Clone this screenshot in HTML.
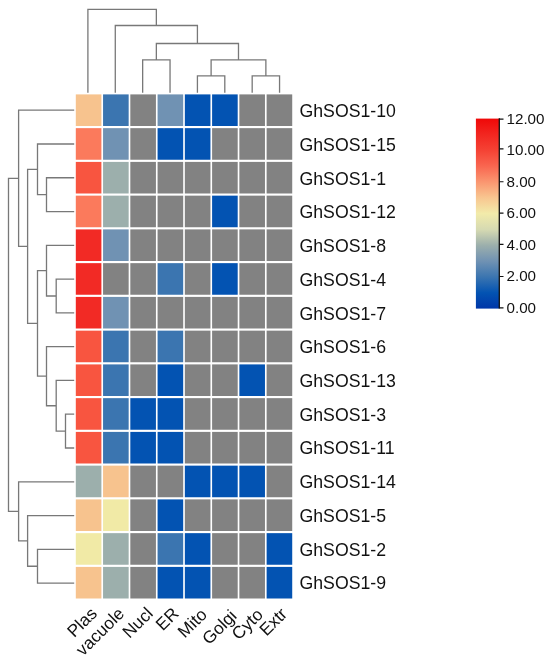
<!DOCTYPE html><html><head><meta charset="utf-8"><title>Heatmap</title><style>html,body{margin:0;padding:0;background:#fff}svg{display:block}text{font-family:"Liberation Sans",Arial,sans-serif;fill:#111}</style></head><body>
<svg width="550" height="666" viewBox="0 0 550 666">
<rect width="550" height="666" fill="#fff"/>
<defs><linearGradient id="cb" x1="0" y1="0" x2="0" y2="1"><stop offset="0.0000" stop-color="#EF0808"/><stop offset="0.0833" stop-color="#F22620"/><stop offset="0.1667" stop-color="#F54234"/><stop offset="0.2500" stop-color="#F96650"/><stop offset="0.3333" stop-color="#FA9670"/><stop offset="0.4167" stop-color="#F8C690"/><stop offset="0.5000" stop-color="#F2EBAA"/><stop offset="0.5833" stop-color="#D6DAB2"/><stop offset="0.6667" stop-color="#9CAFAC"/><stop offset="0.7500" stop-color="#7092B3"/><stop offset="0.8333" stop-color="#3B75B0"/><stop offset="0.9167" stop-color="#0353B2"/><stop offset="1.0000" stop-color="#0036A8"/></linearGradient></defs>
<g>
<rect x="75.80" y="94.40" width="25.6" height="31.6" fill="#F7C38E"/>
<rect x="103.06" y="94.40" width="25.6" height="31.6" fill="#3B75B0"/>
<rect x="130.32" y="94.40" width="25.6" height="31.6" fill="#828282"/>
<rect x="157.58" y="94.40" width="25.6" height="31.6" fill="#7092B3"/>
<rect x="184.84" y="94.40" width="25.6" height="31.6" fill="#0353B2"/>
<rect x="212.10" y="94.40" width="25.6" height="31.6" fill="#0353B2"/>
<rect x="239.36" y="94.40" width="25.6" height="31.6" fill="#828282"/>
<rect x="266.62" y="94.40" width="25.6" height="31.6" fill="#828282"/>
<rect x="75.80" y="128.15" width="25.6" height="31.6" fill="#FB7A5C"/>
<rect x="103.06" y="128.15" width="25.6" height="31.6" fill="#7092B3"/>
<rect x="130.32" y="128.15" width="25.6" height="31.6" fill="#828282"/>
<rect x="157.58" y="128.15" width="25.6" height="31.6" fill="#0353B2"/>
<rect x="184.84" y="128.15" width="25.6" height="31.6" fill="#0353B2"/>
<rect x="212.10" y="128.15" width="25.6" height="31.6" fill="#828282"/>
<rect x="239.36" y="128.15" width="25.6" height="31.6" fill="#828282"/>
<rect x="266.62" y="128.15" width="25.6" height="31.6" fill="#828282"/>
<rect x="75.80" y="161.90" width="25.6" height="31.6" fill="#F85540"/>
<rect x="103.06" y="161.90" width="25.6" height="31.6" fill="#9CAFAC"/>
<rect x="130.32" y="161.90" width="25.6" height="31.6" fill="#828282"/>
<rect x="157.58" y="161.90" width="25.6" height="31.6" fill="#828282"/>
<rect x="184.84" y="161.90" width="25.6" height="31.6" fill="#828282"/>
<rect x="212.10" y="161.90" width="25.6" height="31.6" fill="#828282"/>
<rect x="239.36" y="161.90" width="25.6" height="31.6" fill="#828282"/>
<rect x="266.62" y="161.90" width="25.6" height="31.6" fill="#828282"/>
<rect x="75.80" y="195.65" width="25.6" height="31.6" fill="#FB7A5C"/>
<rect x="103.06" y="195.65" width="25.6" height="31.6" fill="#9CAFAC"/>
<rect x="130.32" y="195.65" width="25.6" height="31.6" fill="#828282"/>
<rect x="157.58" y="195.65" width="25.6" height="31.6" fill="#828282"/>
<rect x="184.84" y="195.65" width="25.6" height="31.6" fill="#828282"/>
<rect x="212.10" y="195.65" width="25.6" height="31.6" fill="#0353B2"/>
<rect x="239.36" y="195.65" width="25.6" height="31.6" fill="#828282"/>
<rect x="266.62" y="195.65" width="25.6" height="31.6" fill="#828282"/>
<rect x="75.80" y="229.40" width="25.6" height="31.6" fill="#F22A25"/>
<rect x="103.06" y="229.40" width="25.6" height="31.6" fill="#7092B3"/>
<rect x="130.32" y="229.40" width="25.6" height="31.6" fill="#828282"/>
<rect x="157.58" y="229.40" width="25.6" height="31.6" fill="#828282"/>
<rect x="184.84" y="229.40" width="25.6" height="31.6" fill="#828282"/>
<rect x="212.10" y="229.40" width="25.6" height="31.6" fill="#828282"/>
<rect x="239.36" y="229.40" width="25.6" height="31.6" fill="#828282"/>
<rect x="266.62" y="229.40" width="25.6" height="31.6" fill="#828282"/>
<rect x="75.80" y="263.15" width="25.6" height="31.6" fill="#F22A25"/>
<rect x="103.06" y="263.15" width="25.6" height="31.6" fill="#828282"/>
<rect x="130.32" y="263.15" width="25.6" height="31.6" fill="#828282"/>
<rect x="157.58" y="263.15" width="25.6" height="31.6" fill="#3B75B0"/>
<rect x="184.84" y="263.15" width="25.6" height="31.6" fill="#828282"/>
<rect x="212.10" y="263.15" width="25.6" height="31.6" fill="#0353B2"/>
<rect x="239.36" y="263.15" width="25.6" height="31.6" fill="#828282"/>
<rect x="266.62" y="263.15" width="25.6" height="31.6" fill="#828282"/>
<rect x="75.80" y="296.90" width="25.6" height="31.6" fill="#F22A25"/>
<rect x="103.06" y="296.90" width="25.6" height="31.6" fill="#7092B3"/>
<rect x="130.32" y="296.90" width="25.6" height="31.6" fill="#828282"/>
<rect x="157.58" y="296.90" width="25.6" height="31.6" fill="#828282"/>
<rect x="184.84" y="296.90" width="25.6" height="31.6" fill="#828282"/>
<rect x="212.10" y="296.90" width="25.6" height="31.6" fill="#828282"/>
<rect x="239.36" y="296.90" width="25.6" height="31.6" fill="#828282"/>
<rect x="266.62" y="296.90" width="25.6" height="31.6" fill="#828282"/>
<rect x="75.80" y="330.65" width="25.6" height="31.6" fill="#F85540"/>
<rect x="103.06" y="330.65" width="25.6" height="31.6" fill="#3B75B0"/>
<rect x="130.32" y="330.65" width="25.6" height="31.6" fill="#828282"/>
<rect x="157.58" y="330.65" width="25.6" height="31.6" fill="#3B75B0"/>
<rect x="184.84" y="330.65" width="25.6" height="31.6" fill="#828282"/>
<rect x="212.10" y="330.65" width="25.6" height="31.6" fill="#828282"/>
<rect x="239.36" y="330.65" width="25.6" height="31.6" fill="#828282"/>
<rect x="266.62" y="330.65" width="25.6" height="31.6" fill="#828282"/>
<rect x="75.80" y="364.40" width="25.6" height="31.6" fill="#F85540"/>
<rect x="103.06" y="364.40" width="25.6" height="31.6" fill="#3B75B0"/>
<rect x="130.32" y="364.40" width="25.6" height="31.6" fill="#828282"/>
<rect x="157.58" y="364.40" width="25.6" height="31.6" fill="#0353B2"/>
<rect x="184.84" y="364.40" width="25.6" height="31.6" fill="#828282"/>
<rect x="212.10" y="364.40" width="25.6" height="31.6" fill="#828282"/>
<rect x="239.36" y="364.40" width="25.6" height="31.6" fill="#0353B2"/>
<rect x="266.62" y="364.40" width="25.6" height="31.6" fill="#828282"/>
<rect x="75.80" y="398.15" width="25.6" height="31.6" fill="#F85540"/>
<rect x="103.06" y="398.15" width="25.6" height="31.6" fill="#3B75B0"/>
<rect x="130.32" y="398.15" width="25.6" height="31.6" fill="#0353B2"/>
<rect x="157.58" y="398.15" width="25.6" height="31.6" fill="#0353B2"/>
<rect x="184.84" y="398.15" width="25.6" height="31.6" fill="#828282"/>
<rect x="212.10" y="398.15" width="25.6" height="31.6" fill="#828282"/>
<rect x="239.36" y="398.15" width="25.6" height="31.6" fill="#828282"/>
<rect x="266.62" y="398.15" width="25.6" height="31.6" fill="#828282"/>
<rect x="75.80" y="431.90" width="25.6" height="31.6" fill="#F85540"/>
<rect x="103.06" y="431.90" width="25.6" height="31.6" fill="#3B75B0"/>
<rect x="130.32" y="431.90" width="25.6" height="31.6" fill="#0353B2"/>
<rect x="157.58" y="431.90" width="25.6" height="31.6" fill="#0353B2"/>
<rect x="184.84" y="431.90" width="25.6" height="31.6" fill="#828282"/>
<rect x="212.10" y="431.90" width="25.6" height="31.6" fill="#828282"/>
<rect x="239.36" y="431.90" width="25.6" height="31.6" fill="#828282"/>
<rect x="266.62" y="431.90" width="25.6" height="31.6" fill="#828282"/>
<rect x="75.80" y="465.65" width="25.6" height="31.6" fill="#9CAFAC"/>
<rect x="103.06" y="465.65" width="25.6" height="31.6" fill="#F7C38E"/>
<rect x="130.32" y="465.65" width="25.6" height="31.6" fill="#828282"/>
<rect x="157.58" y="465.65" width="25.6" height="31.6" fill="#828282"/>
<rect x="184.84" y="465.65" width="25.6" height="31.6" fill="#0353B2"/>
<rect x="212.10" y="465.65" width="25.6" height="31.6" fill="#0353B2"/>
<rect x="239.36" y="465.65" width="25.6" height="31.6" fill="#0353B2"/>
<rect x="266.62" y="465.65" width="25.6" height="31.6" fill="#828282"/>
<rect x="75.80" y="499.40" width="25.6" height="31.6" fill="#F7C38E"/>
<rect x="103.06" y="499.40" width="25.6" height="31.6" fill="#F1EAA6"/>
<rect x="130.32" y="499.40" width="25.6" height="31.6" fill="#828282"/>
<rect x="157.58" y="499.40" width="25.6" height="31.6" fill="#0353B2"/>
<rect x="184.84" y="499.40" width="25.6" height="31.6" fill="#828282"/>
<rect x="212.10" y="499.40" width="25.6" height="31.6" fill="#828282"/>
<rect x="239.36" y="499.40" width="25.6" height="31.6" fill="#828282"/>
<rect x="266.62" y="499.40" width="25.6" height="31.6" fill="#828282"/>
<rect x="75.80" y="533.15" width="25.6" height="31.6" fill="#F1EAA6"/>
<rect x="103.06" y="533.15" width="25.6" height="31.6" fill="#9CAFAC"/>
<rect x="130.32" y="533.15" width="25.6" height="31.6" fill="#828282"/>
<rect x="157.58" y="533.15" width="25.6" height="31.6" fill="#3B75B0"/>
<rect x="184.84" y="533.15" width="25.6" height="31.6" fill="#0353B2"/>
<rect x="212.10" y="533.15" width="25.6" height="31.6" fill="#828282"/>
<rect x="239.36" y="533.15" width="25.6" height="31.6" fill="#828282"/>
<rect x="266.62" y="533.15" width="25.6" height="31.6" fill="#0353B2"/>
<rect x="75.80" y="566.90" width="25.6" height="31.6" fill="#F7C38E"/>
<rect x="103.06" y="566.90" width="25.6" height="31.6" fill="#9CAFAC"/>
<rect x="130.32" y="566.90" width="25.6" height="31.6" fill="#828282"/>
<rect x="157.58" y="566.90" width="25.6" height="31.6" fill="#0353B2"/>
<rect x="184.84" y="566.90" width="25.6" height="31.6" fill="#0353B2"/>
<rect x="212.10" y="566.90" width="25.6" height="31.6" fill="#828282"/>
<rect x="239.36" y="566.90" width="25.6" height="31.6" fill="#828282"/>
<rect x="266.62" y="566.90" width="25.6" height="31.6" fill="#0353B2"/>
</g>
<path d="M252.18 92.70V75.80H279.56V92.70M197.42 92.70V75.80H224.80V92.70M211.11 75.80V59.80H265.87V75.80M142.66 92.70V59.80H170.04V92.70M156.35 59.80V43.50H238.49V59.80M115.28 92.70V25.50H197.42V43.50M87.90 92.70V9.40H156.35V25.50" fill="none" stroke="#787878" stroke-width="1.3"/>
<path d="M74.20 177.76H46.50V211.54H74.20M74.20 143.98H37.50V194.65H46.50M74.20 279.10H56.20V312.88H74.20M74.20 245.32H46.50V295.99H56.20M74.20 414.22H65.50V448.00H74.20M74.20 380.44H56.20V431.11H65.50M74.20 346.66H46.50V405.77H56.20M46.50 270.65H37.50V376.22H46.50M37.50 169.31H27.60V323.44H37.50M74.20 110.20H18.60V246.38H27.60M74.20 549.34H37.50V583.12H74.20M74.20 515.56H27.60V566.23H37.50M74.20 481.78H18.60V540.89H27.60M18.60 178.29H8.50V511.34H18.60" fill="none" stroke="#787878" stroke-width="1.3"/>
<g font-size="17.7">
<text x="299.5" y="117.07">GhSOS1-10</text>
<text x="299.5" y="150.81">GhSOS1-15</text>
<text x="299.5" y="184.55">GhSOS1-1</text>
<text x="299.5" y="218.29">GhSOS1-12</text>
<text x="299.5" y="252.03">GhSOS1-8</text>
<text x="299.5" y="285.77">GhSOS1-4</text>
<text x="299.5" y="319.51">GhSOS1-7</text>
<text x="299.5" y="353.25">GhSOS1-6</text>
<text x="299.5" y="386.99">GhSOS1-13</text>
<text x="299.5" y="420.73">GhSOS1-3</text>
<text x="299.5" y="454.47">GhSOS1-11</text>
<text x="299.5" y="488.21">GhSOS1-14</text>
<text x="299.5" y="521.95">GhSOS1-5</text>
<text x="299.5" y="555.69">GhSOS1-2</text>
<text x="299.5" y="589.43">GhSOS1-9</text>
</g>
<g font-size="17.3" text-anchor="end">
<text transform="translate(90.22 606.80) rotate(-45)" x="0" y="11">Plas</text>
<text transform="translate(117.46 606.80) rotate(-45)" x="0" y="11">vacuole</text>
<text transform="translate(146.20 606.80) rotate(-45)" x="0" y="11">Nucl</text>
<text transform="translate(171.94 606.80) rotate(-45)" x="0" y="11">ER</text>
<text transform="translate(200.18 607.80) rotate(-45)" x="0" y="11">Mito</text>
<text transform="translate(229.92 609.30) rotate(-45)" x="0" y="11">Golgi</text>
<text transform="translate(256.16 607.80) rotate(-45)" x="0" y="11">Cyto</text>
<text transform="translate(280.40 607.30) rotate(-45)" x="0" y="11">Extr</text>
</g>
<rect x="475.9" y="118.6" width="23.5" height="190" fill="url(#cb)"/>
<path d="M499.3 118.2V308.6" stroke="#111" stroke-width="1.3" fill="none"/>
<path d="M499.3 119.10H503.5M499.3 148.90H503.5M499.3 181.70H503.5M499.3 213.10H503.5M499.3 244.40H503.5M499.3 276.50H503.5M499.3 307.90H503.5" stroke="#111" stroke-width="1.1" fill="none"/>
<g font-size="15.2">
<text x="506.5" y="123.70">12.00</text>
<text x="506.5" y="155.20">10.00</text>
<text x="506.5" y="186.70">8.00</text>
<text x="506.5" y="218.20">6.00</text>
<text x="506.5" y="249.70">4.00</text>
<text x="506.5" y="281.20">2.00</text>
<text x="506.5" y="312.70">0.00</text>
</g>
</svg></body></html>
